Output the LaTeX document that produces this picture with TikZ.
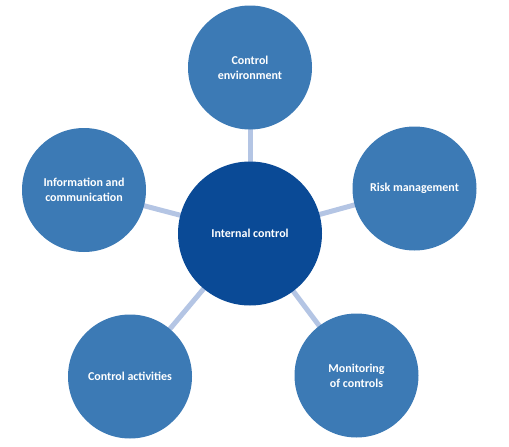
\documentclass[tikz,border=0pt]{standalone}
\usepackage{fontspec}
\setmainfont{Carlito}
\usetikzlibrary{backgrounds}
\definecolor{outerblue}{HTML}{3C7AB5}
\definecolor{innerblue}{HTML}{0A4A96}
\definecolor{linkblue}{HTML}{B4C5E4}
\tikzset{
  x=1pt, y=-1pt,
  outer/.style={circle, fill=outerblue, minimum size=124pt, inner sep=0pt, text=white, font=\bfseries\fontsize{12}{15}\selectfont, align=center},
  inner/.style={circle, fill=innerblue, minimum size=144pt, inner sep=0pt, text=white, font=\bfseries\fontsize{12}{15}\selectfont, align=center},
  link/.style={draw=linkblue, line width=5pt}
}
\begin{document}
\begin{tikzpicture}
\useasboundingbox (0,0) rectangle (509,447);
\node[inner] (ic) at (250,233.5) {Internal control};
\node[outer] (ce) at (250,67.5) {Control\\environment};
\node[outer] (rm) at (414.5,188.5) {Risk management};
\node[outer] (mc) at (356.5,375.5) {Monitoring\\of controls};
\node[outer] (ca) at (130,376.5) {Control activities};
\node[outer] (inf) at (84,190) {Information and\\communication};
\begin{scope}[on background layer]
\draw[link] (ic.center) -- (ce.center);
\draw[link] (ic.center) -- (rm.center);
\draw[link] (ic.center) -- (mc.center);
\draw[link] (ic.center) -- (ca.center);
\draw[link] (ic.center) -- (inf.center);
\end{scope}
\end{tikzpicture}
\end{document}
